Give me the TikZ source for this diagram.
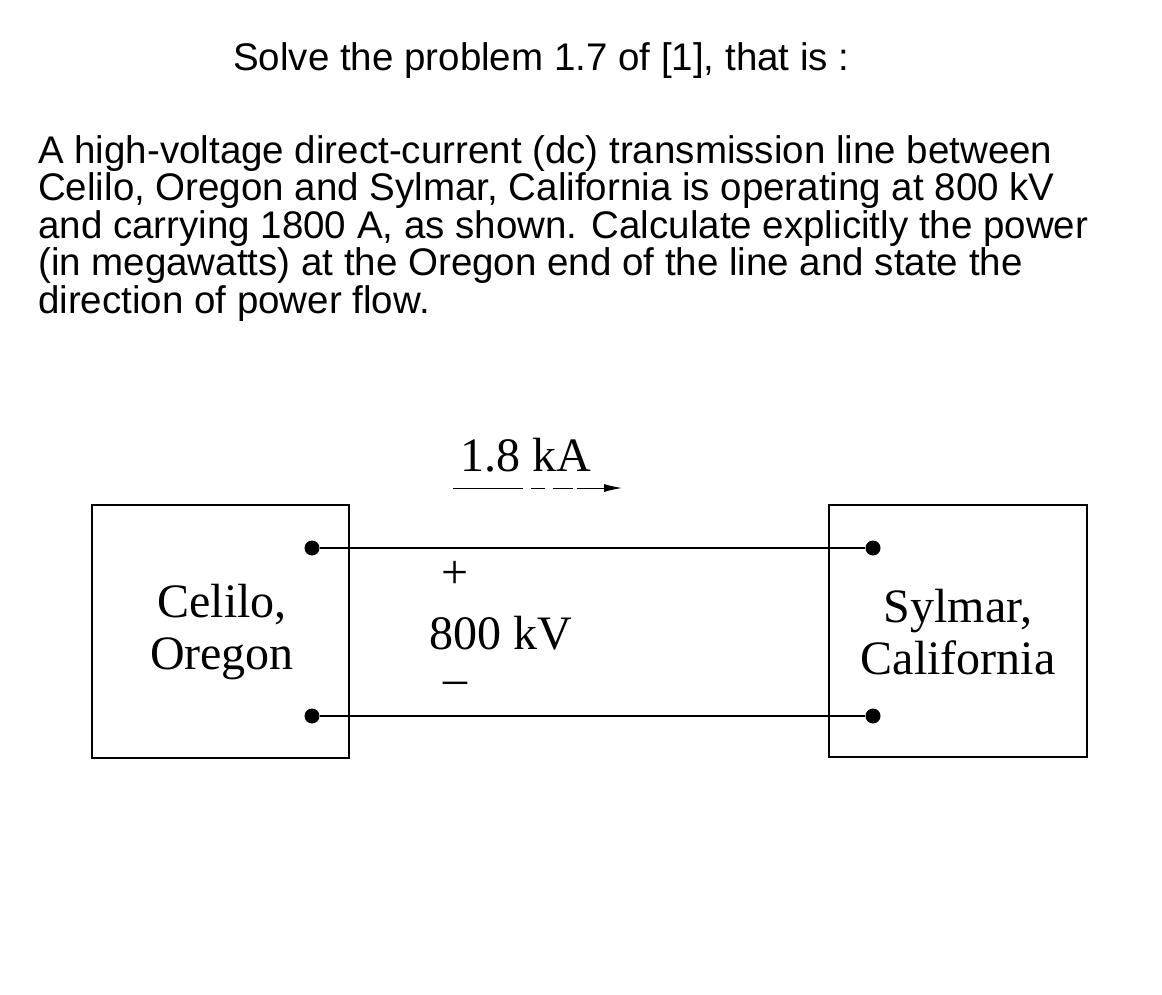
\documentclass[tikz,border=0pt]{standalone}
\usepackage{fontspec}
\usetikzlibrary{arrows.meta}
\setmainfont{Liberation Serif}
\newfontfamily\arial{Liberation Sans}
\begin{document}
\begin{tikzpicture}[x=1pt,y=-1pt,
  para/.style={font=\arial\fontsize{38.5}{37.5}\selectfont,anchor=north west,inner sep=0pt,align=left},
  lab/.style={font=\fontsize{48}{52}\selectfont,inner sep=0pt},
  box/.style={draw,line width=1.6pt},
  wire/.style={line width=1.6pt},
  dot/.style={circle,fill,inner sep=0pt,minimum size=15pt}]
\useasboundingbox (0,0) rectangle (1162,994);
\node[para] (title) at (233,42) {Solve the problem 1.7 of [1], that is :};
\node[para] (body) at (38,135) {A high-voltage direct-current (dc) transmission line between\\Celilo, Oregon and Sylmar, California is operating at 800 kV\\and carrying 1800 A, as shown. Calculate explicitly the power\\(in megawatts) at the Oregon end of the line and state the\\direction of power flow.};
\draw[box] (92,505) rectangle (349,758);
\draw[box] (829,505) rectangle (1087,757);
\node[lab,align=center] (cel) at (222,632) {Celilo,\\Oregon};
\node[lab,align=center] (syl) at (958,632) {Sylmar,\\California};
\node[dot] (a1) at (312,548) {};
\node[dot] (b1) at (873,548) {};
\node[dot] (a2) at (312,716) {};
\node[dot] (b2) at (873,716) {};
\draw[wire] (a1) -- (b1);
\draw[wire] (a2) -- (b2);
\node[lab] (cur) at (526,455) {1.8 kA};
\coordinate (s) at (453,488);
\coordinate (e) at (622,488);
\draw[line width=1pt,dash pattern=on 70pt off 8pt on 14pt off 8pt on 20pt off 4pt,-{Latex[length=18pt,width=8pt]}] (s) -- (e);
\node[lab] (plus) at (455,575) {+};
\node[lab] (volt) at (501,633) {800 kV};
\node[lab] (minus) at (455,688) {\textendash};
\end{tikzpicture}
\end{document}
